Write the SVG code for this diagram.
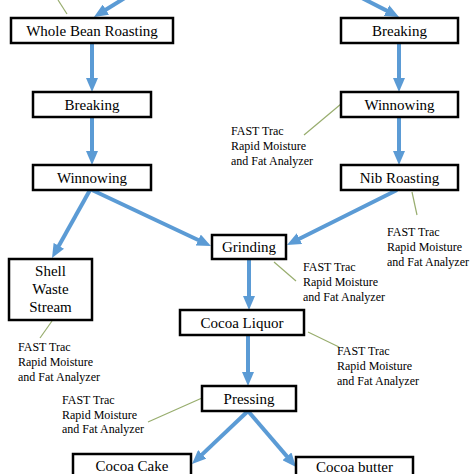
<svg xmlns="http://www.w3.org/2000/svg" width="474" height="474" viewBox="0 0 474 474">
<style>
.box{fill:#fff;stroke:#000;stroke-width:2.5}
.lbl{font-size:15px;fill:#000;text-anchor:middle}
.note{font-size:12px;fill:#000}
.arr{stroke:#5B9BD5;stroke-width:4;fill:none;marker-end:url(#ah)}
.lead{stroke:#98AD6E;stroke-width:1.2;fill:none}
</style>
<defs>
<marker id="ah" markerUnits="userSpaceOnUse" markerWidth="14" markerHeight="12" viewBox="0 0 14 12" refX="4" refY="6" orient="auto">
<path d="M0,0 L14,6 L0,12 z" fill="#5B9BD5"/>
</marker>
</defs>
<rect width="474" height="474" fill="#fff"/>
<g id="connectors">
<line class="arr" x1="128" y1="-4" x2="102.5" y2="11.75"/>
<line class="arr" x1="92" y1="43" x2="92" y2="82"/>
<line class="arr" x1="92" y1="117" x2="92" y2="155"/>
<line class="arr" x1="90" y1="190" x2="56.9" y2="249.3"/>
<line class="arr" x1="92" y1="190" x2="201.9" y2="241.7"/>
<line class="arr" x1="358" y1="-4" x2="390.1" y2="12.4"/>
<line class="arr" x1="399" y1="43" x2="399" y2="82"/>
<line class="arr" x1="399" y1="117" x2="399" y2="155"/>
<line class="arr" x1="397" y1="190" x2="295.9" y2="240.5"/>
<line class="arr" x1="249" y1="259" x2="249" y2="300"/>
<line class="arr" x1="248" y1="335" x2="248" y2="376"/>
<line class="arr" x1="248" y1="411" x2="199.3" y2="457.1"/>
<line class="arr" x1="248" y1="411" x2="289.5" y2="459.4"/>
<line class="lead" x1="58" y1="0" x2="67" y2="14"/>
<line class="lead" x1="341" y1="104" x2="304" y2="135"/>
<line class="lead" x1="412" y1="192" x2="417" y2="215"/>
<line class="lead" x1="274" y1="262" x2="296" y2="281"/>
<line class="lead" x1="52" y1="321" x2="40" y2="338"/>
<line class="lead" x1="308" y1="332" x2="339" y2="347"/>
<line class="lead" x1="202" y1="398" x2="148" y2="422"/>
</g>
<g font-family="Liberation Serif, Tinos, Times New Roman, DejaVu Serif, serif">
<g id="whole-bean-roasting"><rect class="box" x="11" y="18" width="162" height="25"/><text class="lbl" x="92" y="36">Whole Bean Roasting</text></g>
<g id="breaking-left"><rect class="box" x="33" y="92" width="118" height="25"/><text class="lbl" x="92" y="110">Breaking</text></g>
<g id="winnowing-left"><rect class="box" x="33" y="165" width="118" height="25"/><text class="lbl" x="92" y="183">Winnowing</text></g>
<g id="breaking-right"><rect class="box" x="341" y="18" width="117" height="25"/><text class="lbl" x="399.5" y="36">Breaking</text></g>
<g id="winnowing-right"><rect class="box" x="341" y="92" width="117" height="25"/><text class="lbl" x="399.5" y="110">Winnowing</text></g>
<g id="nib-roasting"><rect class="box" x="341" y="165" width="117" height="25"/><text class="lbl" x="399.5" y="183">Nib Roasting</text></g>
<g id="shell-waste"><rect class="box" x="9" y="259" width="83" height="61"/><text class="lbl" x="50.5" y="276">Shell</text><text class="lbl" x="50.5" y="294">Waste</text><text class="lbl" x="50.5" y="312">Stream</text></g>
<g id="grinding"><rect class="box" x="212" y="235" width="74" height="24"/><text class="lbl" x="249" y="252">Grinding</text></g>
<g id="cocoa-liquor"><rect class="box" x="180" y="310" width="124" height="25"/><text class="lbl" x="242" y="328">Cocoa Liquor</text></g>
<g id="pressing"><rect class="box" x="202" y="386" width="94" height="25"/><text class="lbl" x="249" y="404">Pressing</text></g>
<g id="cocoa-cake"><rect class="box" x="73" y="454" width="118" height="25"/><text class="lbl" x="132" y="471">Cocoa Cake</text></g>
<g id="cocoa-butter"><rect class="box" x="296" y="457" width="117" height="25"/><text class="lbl" x="354.5" y="472">Cocoa butter</text></g>
<g id="note-winnowing"><text class="note" x="231" y="135">FAST Trac</text><text class="note" x="231" y="150">Rapid Moisture</text><text class="note" x="231" y="165">and Fat Analyzer</text></g>
<g id="note-nib"><text class="note" x="387" y="236">FAST Trac</text><text class="note" x="387" y="251">Rapid Moisture</text><text class="note" x="387" y="266">and Fat Analyzer</text></g>
<g id="note-grinding"><text class="note" x="303" y="271">FAST Trac</text><text class="note" x="303" y="286">Rapid Moisture</text><text class="note" x="303" y="301">and Fat Analyzer</text></g>
<g id="note-shell"><text class="note" x="18" y="351">FAST Trac</text><text class="note" x="18" y="366">Rapid Moisture</text><text class="note" x="18" y="381">and Fat Analyzer</text></g>
<g id="note-liquor"><text class="note" x="337" y="355">FAST Trac</text><text class="note" x="337" y="370">Rapid Moisture</text><text class="note" x="337" y="385">and Fat Analyzer</text></g>
<g id="note-pressing"><text class="note" x="62" y="404">FAST Trac</text><text class="note" x="62" y="419">Rapid Moisture</text><text class="note" x="62" y="433">and Fat Analyzer</text></g>
</g>
</svg>
